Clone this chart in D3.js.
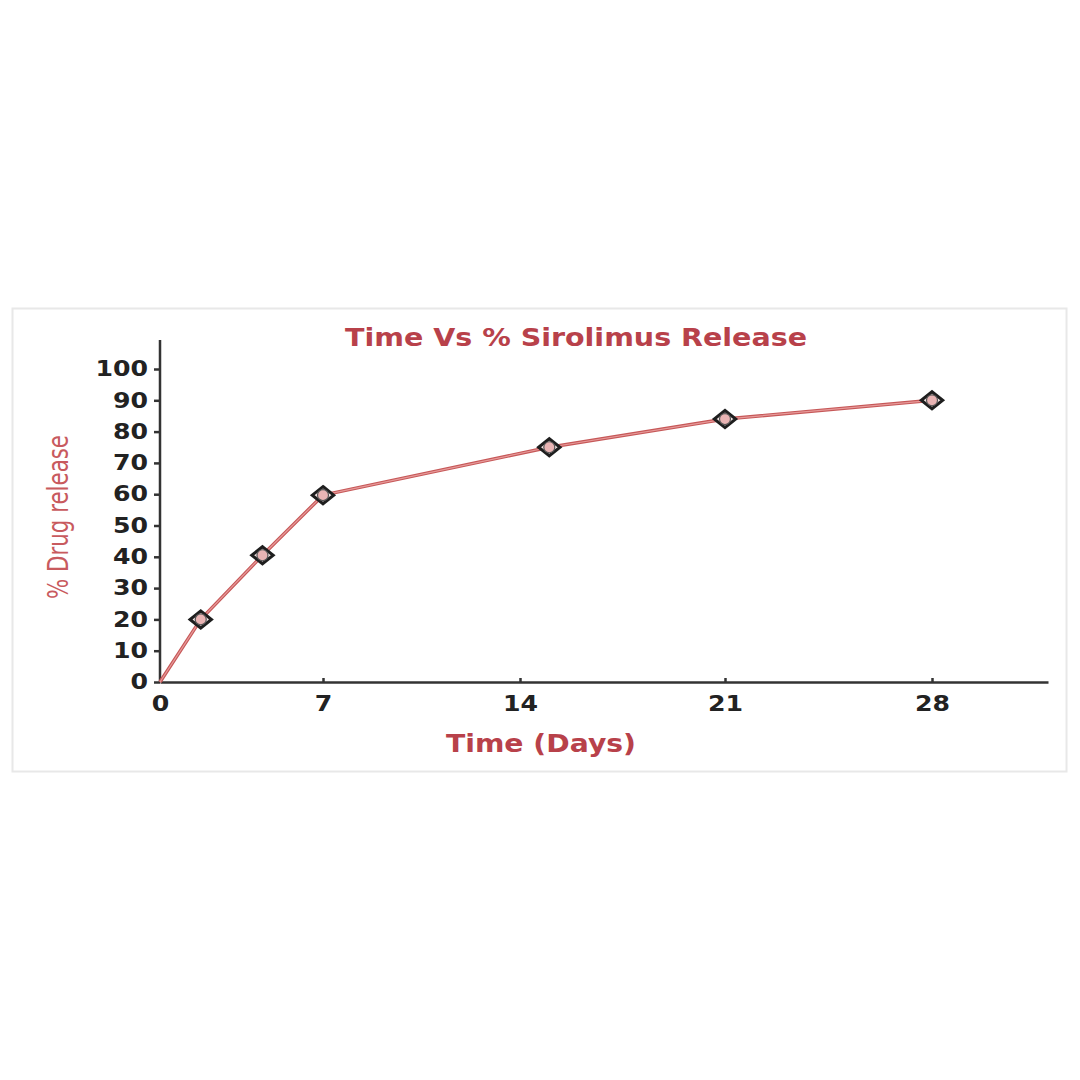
<!DOCTYPE html>
<html>
<head>
<meta charset="utf-8">
<script src="https://cdn.jsdelivr.net/npm/d3@7"></script>
<style>
  html, body { margin: 0; padding: 0; background: #fff; }
  svg { display: block; }
</style>
</head>
<body>
<svg id="chart" width="1080" height="1080"></svg>
<script>
// values
var days = [0, 1.75, 4.4, 7, 15, 21, 28];
var release = [0, 20, 40.5, 59.7, 75, 84, 90];
var xTicks = [0, 7, 14, 21, 28];
var yTicks = [0, 10, 20, 30, 40, 50, 60, 70, 80, 90, 100];

var red = "#b8414a";

var svg = d3.select("#chart");

// light frame round the chart
svg.append("rect")
  .attr("x", 12.5).attr("y", 308.5)
  .attr("width", 1054).attr("height", 463)
  .attr("fill", "#fff")
  .attr("stroke", "#e8e8e8")
  .attr("stroke-width", 2);

// the original x axis is not evenly spaced, so use a piecewise scale
var x = d3.scaleLinear()
  .domain([0, 7, 14, 21, 28, 32])
  .range([160, 323, 520, 725, 932, 1048]);

var y = d3.scaleLinear()
  .domain([0, 100])
  .range([682, 369]);

var font = "'DejaVu Sans', Verdana, sans-serif";

// x axis
var gx = svg.append("g")
  .attr("transform", "translate(0," + y(0) + ")")
  .call(d3.axisBottom(x).tickValues(xTicks).tickSize(-6).tickPadding(11).tickSizeOuter(0));
gx.select(".domain").attr("stroke", "#333").attr("stroke-width", 2.5);
gx.selectAll(".tick line").attr("stroke", "#333").attr("stroke-width", 2.5)
  .attr("y1", -4).attr("y2", 0);
gx.selectAll(".tick text")
  .attr("font-family", font).attr("font-weight", "bold")
  .attr("font-size", 21).attr("fill", "#222")
  .attr("dy", "0.85em")
  .attr("transform", "scale(1.2,1)");

// y axis
var gy = svg.append("g")
  .attr("transform", "translate(" + x(0) + ",0)")
  .call(d3.axisLeft(y).tickValues(yTicks).tickSize(6).tickPadding(8).tickSizeOuter(0));
gy.select(".domain").attr("stroke", "#333").attr("stroke-width", 2.5)
  .attr("d", "M0," + y(0) + "V340");
gy.selectAll(".tick line").attr("stroke", "#333").attr("stroke-width", 2.5);
gy.selectAll(".tick text")
  .attr("font-family", font).attr("font-weight", "bold")
  .attr("font-size", 21).attr("fill", "#222")
  .attr("transform", "scale(1.2,1)")
  .attr("x", -12 / 1.2);

// the line
var line = d3.line()
  .x(function (d, i) { return x(days[i]); })
  .y(function (d) { return y(d); });

svg.append("path")
  .datum(release)
  .attr("d", line)
  .attr("fill", "none")
  .attr("stroke", "#c65858")
  .attr("stroke-width", 3.5)
  .attr("stroke-linejoin", "round");
svg.append("path")
  .datum(release)
  .attr("d", line)
  .attr("fill", "none")
  .attr("stroke", "#e79a9a")
  .attr("stroke-width", 1.2)
  .attr("stroke-linejoin", "round");

// markers (skip the origin)
var pts = release.map(function (v, i) { return { d: days[i], v: v }; }).slice(1);

var marks = svg.append("g").selectAll("g")
  .data(pts)
  .enter().append("g")
  .attr("transform", function (p) { return "translate(" + x(p.d) + "," + y(p.v) + ")"; });

marks.append("path")
  .attr("d", d3.symbol().type(d3.symbolDiamond2).size(220))
  .attr("transform", "scale(1.15,0.92)")
  .attr("fill", "#f6e6e6")
  .attr("stroke", "#1e1e1e")
  .attr("stroke-width", 3);

marks.append("circle")
  .attr("r", 5.5)
  .attr("fill", "#e9b4b4")
  .attr("stroke", "#555")
  .attr("stroke-width", 1.2);

// title
svg.append("text")
  .attr("x", 576).attr("y", 346)
  .attr("text-anchor", "middle")
  .attr("font-family", font).attr("font-weight", "bold")
  .attr("font-size", 25).attr("fill", red)
  .attr("textLength", 462).attr("lengthAdjust", "spacingAndGlyphs")
  .text("Time Vs % Sirolimus Release");

// x label
svg.append("text")
  .attr("x", 541).attr("y", 752)
  .attr("text-anchor", "middle")
  .attr("font-family", font).attr("font-weight", "bold")
  .attr("font-size", 24).attr("fill", red)
  .attr("textLength", 190).attr("lengthAdjust", "spacingAndGlyphs")
  .text("Time (Days)");

// y label
svg.append("text")
  .attr("transform", "translate(68,517) rotate(-90)")
  .attr("text-anchor", "middle")
  .attr("font-family", "'Liberation Sans Narrow', 'DejaVu Sans Condensed', sans-serif")
  .attr("font-size", 29).attr("fill", "#c85a5e")
  .attr("textLength", 164).attr("lengthAdjust", "spacingAndGlyphs")
  .text("% Drug release");
</script>
</body>
</html>
